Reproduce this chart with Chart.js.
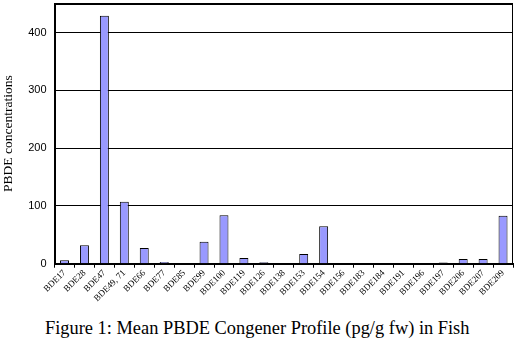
<!DOCTYPE html>
<html>
<head>
<meta charset="utf-8">
<script src="https://cdn.jsdelivr.net/npm/chart.js@4/dist/chart.umd.min.js"></script>
<style>
    html, body { margin: 0; padding: 0; background: #fff; }
    #wrap { position: relative; width: 515px; height: 346px; overflow: hidden; }
    #chartBox { position: absolute; left: 0; top: -11px; width: 515px; height: 315px; }
    #caption {
        position: absolute; left: 45px; top: 318px;
        font-family: 'Liberation Serif', 'Times New Roman', serif;
        font-size: 18.4px; color: #000; white-space: nowrap;
    }
</style>
</head>
<body>
<div id="wrap">
    <div id="chartBox"><canvas id="pbdeChart"></canvas></div>
    <div id="caption">Figure 1: Mean PBDE Congener Profile (pg/g fw) in Fish</div>
</div>
<script>
// congeners on the x axis
const congeners = ['BDE17', 'BDE28', 'BDE47', 'BDE49, 71', 'BDE66', 'BDE77', 'BDE85', 'BDE99',
    'BDE100', 'BDE119', 'BDE126', 'BDE138', 'BDE153', 'BDE154', 'BDE156', 'BDE183',
    'BDE184', 'BDE191', 'BDE196', 'BDE197', 'BDE206', 'BDE207', 'BDE209'];

// mean concentrations (pg/g fw)
const meanConc = [6, 32, 429, 107, 27, 3, 0, 38, 84, 10, 2.5, 0, 17, 65, 0, 1,
    1, 0, 1, 2, 8, 8, 83];

const yTicks = [0, 100, 200, 300, 400];
const yMax = 450;

// box round the plot area
const frame = {
    id: 'frame',
    afterDraw(chart) {
        const a = chart.chartArea;
        const c = chart.ctx;
        c.save();
        c.strokeStyle = '#000';
        c.lineWidth = 1;
        c.strokeRect(Math.round(a.left) + 0.5, Math.round(a.top) + 0.5,
            Math.round(a.right - a.left) - 1, Math.round(a.bottom - a.top));
        c.restore();
    }
};

document.addEventListener('DOMContentLoaded', function () {
    const ctx = document.getElementById('pbdeChart').getContext('2d');
    new Chart(ctx, {
        type: 'bar',
        data: {
            labels: congeners,
            datasets: [{
                data: meanConc,
                backgroundColor: '#9999ff',
                borderColor: '#000',
                borderWidth: 1,
                barPercentage: 0.45,
                categoryPercentage: 1
            }]
        },
        options: {
            responsive: true,
            maintainAspectRatio: false,
            animation: false,
            layout: { padding: { top: 0, right: 2, left: 0, bottom: 0 } },
            plugins: {
                legend: { display: false },
                tooltip: { enabled: false }
            },
            scales: {
                x: {
                    offset: true,
                    grid: { offset: true, drawOnChartArea: false, color: '#000', tickLength: 4 },
                    border: { color: '#000' },
                    ticks: {
                        color: '#000',
                        autoSkip: false,
                        maxRotation: 45,
                        minRotation: 45,
                        padding: 0,
                        font: { family: "'Liberation Serif', serif", size: 9 }
                    }
                },
                y: {
                    min: 0,
                    max: yMax,
                    grid: { color: '#000', drawTicks: false },
                    border: { color: '#000' },
                    ticks: {
                        stepSize: 100,
                        color: '#000',
                        padding: 8,
                        font: { family: "'Liberation Sans', Arial, sans-serif", size: 11 },
                        callback: (v) => yTicks.includes(v) ? v : ''
                    },
                    title: {
                        display: true,
                        text: 'PBDE concentrations',
                        color: '#000',
                        padding: { top: 0, bottom: 4 },
                        font: { family: "'Liberation Serif', serif", size: 13.5 }
                    }
                }
            }
        },
        plugins: [frame]
    });
});
</script>
</body>
</html>
